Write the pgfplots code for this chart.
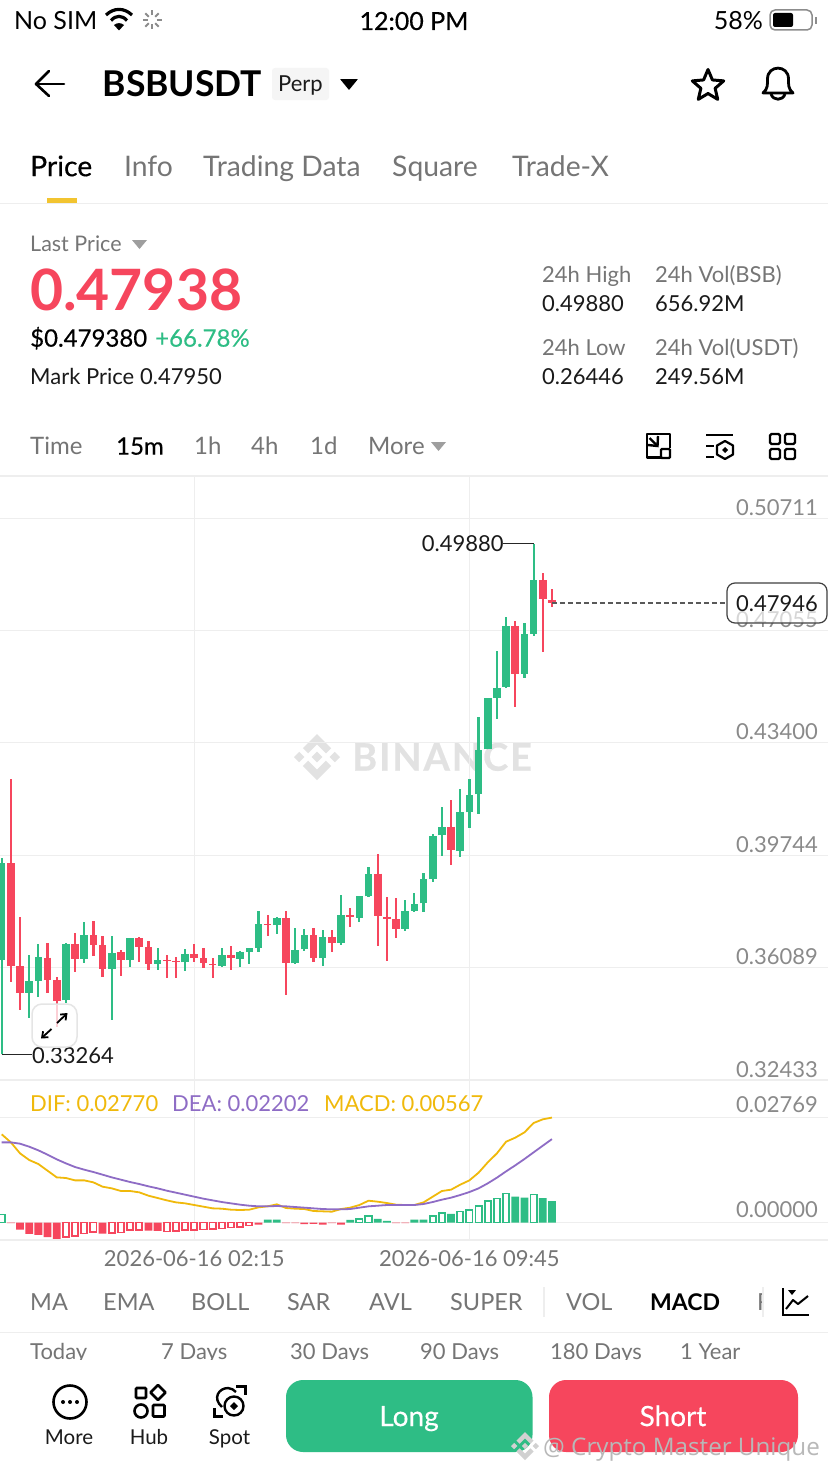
\documentclass[border=0pt]{standalone}
\usepackage{fontspec}
\usepackage{pgfplots}
\usepackage{pgfplotstable}
\pgfplotsset{compat=1.18}
\usetikzlibrary{arrows.meta}
\setmainfont{Lato}
\newfontfamily\wmfont{Open Sans}
\definecolor{grn}{HTML}{2EBD85}
\definecolor{rd}{HTML}{F6465D}
\definecolor{yel}{HTML}{F0B90B}
\definecolor{pur}{HTML}{8E6CC5}
\definecolor{tabgray}{HTML}{757575}
\definecolor{ink}{HTML}{1A1A1A}
\definecolor{gridc}{HTML}{EEEEEE}
\definecolor{wm}{HTML}{E2E2E2}
% #1 font extras, #2 x, #3 y (centre of caps), #4 anchor, #5 size, #6 colour, #7 text
\newcommand{\T}[7][]{\node[anchor=#4,inner sep=0pt,text=#6,font=\fontsize{#5}{#5}\selectfont#1] at (#2,{#3+0.36*#5}) {#7};}
\newcommand{\semi}{\addfontfeature{FakeBold=0.35}}
\newcommand{\binlogo}[4]{\begin{scope}[shift={(#1,#2)},scale=#3]
\fill[#4] (-0.388,-0.16)--(0,-0.55)--(0.388,-0.16)--(0.614,-0.386)--(0,-1)--(-0.614,-0.386)--cycle;
\fill[#4] (-0.388,0.16)--(0,0.55)--(0.388,0.16)--(0.614,0.386)--(0,1)--(-0.614,0.386)--cycle;
\fill[#4] (-1,0)--(-0.774,-0.226)--(-0.548,0)--(-0.774,0.226)--cycle;
\fill[#4] (1,0)--(0.774,-0.226)--(0.548,0)--(0.774,0.226)--cycle;
\fill[#4] (0,-0.229)--(0.229,0)--(0,0.229)--(-0.229,0)--cycle;
\end{scope}}
\pgfplotstableread{
i o h l c
0 0.36324 0.39663 0.33264 0.39479
3 0.35272 0.36487 0.34459 0.35641
4 0.35663 0.36866 0.35120 0.36422
7 0.35023 0.36888 0.34925 0.36844
9 0.36378 0.37560 0.36248 0.37148
12 0.36042 0.37105 0.34372 0.36562
14 0.36335 0.37050 0.36096 0.37040
17 0.36216 0.36736 0.36010 0.36335
20 0.36259 0.36682 0.35977 0.36519
24 0.36150 0.36725 0.36118 0.36497
26 0.36378 0.36628 0.36096 0.36595
27 0.36606 0.36725 0.36205 0.36714
28 0.36736 0.37929 0.36606 0.37517
30 0.37462 0.37744 0.37191 0.37701
32 0.36226 0.37386 0.36205 0.36671
33 0.36682 0.37354 0.36638 0.37148
35 0.36389 0.37300 0.36150 0.37083
37 0.36899 0.38438 0.36812 0.37788
39 0.37712 0.38427 0.37582 0.38406
40 0.38406 0.39371 0.38395 0.39143
44 0.37354 0.38276 0.37289 0.37929
45 0.37939 0.38503 0.37896 0.38156
46 0.38178 0.39154 0.37896 0.38959
47 0.38959 0.40433 0.38883 0.40368
48 0.40390 0.41300 0.39707 0.40672
50 0.39880 0.41897 0.39674 0.41138
51 0.41138 0.42211 0.40639 0.41712
52 0.41723 0.44228 0.41073 0.43176
53 0.43187 0.44857 0.43187 0.44846
54 0.44867 0.46385 0.44163 0.45193
55 0.45225 0.47480 0.45171 0.47209
57 0.45648 0.47296 0.45507 0.46927
58 0.46949 0.49880 0.46873 0.48684
}\greenT
\pgfplotstableread{
i o h l c
1 0.39479 0.42222 0.35608 0.36150
2 0.36129 0.37723 0.34708 0.35272
5 0.36411 0.36888 0.35272 0.35684
6 0.35684 0.35782 0.34166 0.35001
8 0.36844 0.37224 0.35944 0.36378
10 0.37148 0.37603 0.36465 0.36834
11 0.36823 0.37115 0.35793 0.36042
13 0.36584 0.36671 0.35814 0.36335
15 0.37050 0.37094 0.36259 0.36768
16 0.36758 0.36942 0.36020 0.36216
18 0.36324 0.36487 0.35760 0.36291
19 0.36291 0.36422 0.35760 0.36259
21 0.36519 0.36855 0.36270 0.36411
22 0.36389 0.36725 0.36085 0.36248
23 0.36205 0.36389 0.35760 0.36172
25 0.36497 0.36790 0.36010 0.36389
29 0.37495 0.37809 0.37126 0.37462
31 0.37701 0.37939 0.35207 0.36248
34 0.37148 0.37386 0.36270 0.36400
36 0.37083 0.37321 0.36584 0.36899
38 0.37788 0.38015 0.37408 0.37723
41 0.39143 0.39783 0.36790 0.37777
42 0.37744 0.38373 0.36313 0.37668
43 0.37658 0.38351 0.37061 0.37354
49 0.40672 0.41528 0.39414 0.39902
56 0.47199 0.47350 0.44575 0.45648
59 0.48684 0.48933 0.46353 0.48066
60 0.48044 0.48413 0.47817 0.47957
}\redT
\pgfplotstableread{
i dif dea
0 0.02328 0.02116
1 0.02116 0.02116
2 0.01826 0.02081
3 0.01650 0.02002
4 0.01544 0.01905
5 0.01368 0.01791
6 0.01192 0.01668
7 0.01175 0.01562
8 0.01113 0.01465
9 0.01113 0.01395
10 0.01060 0.01333
11 0.00946 0.01263
12 0.00902 0.01192
13 0.00832 0.01131
14 0.00832 0.01069
15 0.00796 0.01016
16 0.00708 0.00955
17 0.00647 0.00902
18 0.00585 0.00840
19 0.00532 0.00788
20 0.00506 0.00735
21 0.00462 0.00682
22 0.00418 0.00629
23 0.00374 0.00585
24 0.00365 0.00541
25 0.00339 0.00506
26 0.00330 0.00471
27 0.00339 0.00444
28 0.00400 0.00427
29 0.00427 0.00427
30 0.00480 0.00436
31 0.00383 0.00427
32 0.00365 0.00409
33 0.00356 0.00392
34 0.00304 0.00374
35 0.00295 0.00356
36 0.00286 0.00348
37 0.00356 0.00348
38 0.00392 0.00356
39 0.00462 0.00392
40 0.00576 0.00427
41 0.00550 0.00444
42 0.00515 0.00462
43 0.00471 0.00462
44 0.00462 0.00462
45 0.00462 0.00462
46 0.00532 0.00488
47 0.00682 0.00541
48 0.00832 0.00603
49 0.00867 0.00656
50 0.00999 0.00726
51 0.01113 0.00805
52 0.01316 0.00902
53 0.01588 0.01034
54 0.01826 0.01184
55 0.02134 0.01351
56 0.02240 0.01509
57 0.02380 0.01676
58 0.02627 0.01852
59 0.02724 0.02028
60 0.02770 0.02202
}\macdT
\pgfplotstableread{
i v
2 -0.00185
3 -0.00299
4 -0.00326
5 -0.00387
6 -0.00458
11 -0.00290
16 -0.00211
17 -0.00220
28 -0.00053
1 -0.00018
31 -0.00018
32 -0.00018
33 -0.00044
34 -0.00035
35 -0.00053
36 -0.00018
37 -0.00053
43 -0.00018
44 -0.00018
}\histRS
\pgfplotstableread{
i v
7 -0.00378
8 -0.00352
9 -0.00290
10 -0.00246
12 -0.00273
13 -0.00264
14 -0.00202
15 -0.00202
18 -0.00238
19 -0.00229
20 -0.00202
21 -0.00194
22 -0.00185
23 -0.00176
24 -0.00158
25 -0.00132
26 -0.00114
27 -0.00079
}\histRH
\pgfplotstableread{
i v
29 0.00079
30 0.00079
38 0.00070
41 0.00097
42 0.00044
45 0.00079
46 0.00079
49 0.00229
56 0.00686
57 0.00660
59 0.00642
60 0.00567
}\histGS
\pgfplotstableread{
i v
0 0.00211
39 0.00088
40 0.00176
47 0.00176
48 0.00255
50 0.00290
51 0.00334
52 0.00440
53 0.00572
54 0.00634
55 0.00766
58 0.00739
}\histGH
\pgfplotsset{
 chartbase/.style={
  scale only axis, width=828pt,
  xmin=-0.185, xmax=90.1,
  axis line style={draw=none},
  major tick length=0pt,
  xtick={21,51},
  ytick pos=right, yticklabel pos=right,
  scaled y ticks=false,
  grid=major, grid style={gridc,line width=1pt},
  y tick label style={anchor=base east,inner sep=0pt,xshift=-10pt,yshift=#1,text=tabgray!85,font=\fontsize{22}{22}\selectfont,
    /pgf/number format/fixed,/pgf/number format/fixed zerofill,/pgf/number format/precision=5,/pgf/number format/assume math mode=true},
 },
 wick/.style={only marks,mark size=0pt,mark options={draw=none,fill=none},forget plot,error bars/.cd,y dir=both,y explicit,error mark=none,error bar style={line width=2.2pt,draw=#1}},
 body/.style={only marks,mark size=0pt,mark options={draw=none,fill=none},forget plot,error bars/.cd,y dir=both,y explicit,error mark=none,error bar style={line width=7.6pt,draw=#1}},
}
\begin{document}
\begin{tikzpicture}
\useasboundingbox (0pt,0pt) rectangle (828pt,-1472pt);
\fill[white] (0pt,0pt) rectangle (828pt,-1472pt);
\begin{scope}[x=1pt,y=-1pt]
 \binlogo{317}{757}{23}{wm}
 \T[\bfseries\addfontfeature{LetterSpace=5,FakeBold=0.5}]{352}{757}{base west}{38}{wm}{BINANCE}
\end{scope}
\begin{axis}[chartbase=3pt, at={(0pt,-1080pt)}, anchor=south west, height=604pt,
  ymin=0.32433, ymax=0.52077,
  ytick={0.32433,0.36089,0.39744,0.43400,0.47055,0.50711},
  xticklabels={}]
 \addplot[wick=grn] table[x=i,y=o,y error plus expr=\thisrow{h}-\thisrow{o},y error minus expr=\thisrow{o}-\thisrow{l}] {\greenT};
 \addplot[wick=rd] table[x=i,y=o,y error plus expr=\thisrow{h}-\thisrow{o},y error minus expr=\thisrow{o}-\thisrow{l}] {\redT};
 \addplot[body=grn] table[x=i,y=o,y error plus expr=\thisrow{c}-\thisrow{o},y error minus expr=0] {\greenT};
 \addplot[body=rd] table[x=i,y=o,y error plus expr=0,y error minus expr=\thisrow{o}-\thisrow{c}] {\redT};
 \addplot[dash pattern=on 5pt off 3pt,line width=1.2pt,black!65,forget plot] coordinates {(60,0.47946)(79.1,0.47946)};
 \addplot[black!85,line width=1.2pt,forget plot] coordinates {(54.67,0.49880)(58,0.49880)};
 \addplot[black!85,line width=1.2pt,forget plot] coordinates {(0,0.33264)(3.3,0.33264)};
 \node[anchor=base east,inner sep=0pt,yshift=-8pt,text=ink,font=\fontsize{22}{22}\selectfont] at (axis cs:54.75,0.4988) {0.49880};
 \node[anchor=base west,inner sep=0pt,yshift=-9.5pt,text=ink,font=\fontsize{22}{22}\selectfont] at (axis cs:3.3,0.33264) {0.33264};
\end{axis}
\begin{axis}[chartbase=5.5pt, at={(0pt,-1240pt)}, anchor=south west, height=160pt,
  ymin=-0.00462, ymax=0.03762,
  ytick={0,0.02769},
  xticklabels={2026-06-16 02:15,2026-06-16 09:45},
  x tick label style={inner sep=0pt,anchor=base,yshift=-26pt,text=tabgray,font=\fontsize{22}{22}\selectfont},
  ]
 \addplot[ybar,bar width=6.2pt,bar shift=0pt,draw=rd,fill=white,line width=1.9pt,forget plot] table[x=i,y=v] {\histRH};
 \addplot[ybar,bar width=6.2pt,bar shift=0pt,draw=grn,fill=white,line width=1.9pt,forget plot] table[x=i,y=v] {\histGH};
 \addplot[ybar,bar width=7.8pt,bar shift=0pt,draw=none,fill=rd,forget plot] table[x=i,y=v] {\histRS};
 \addplot[ybar,bar width=7.8pt,bar shift=0pt,draw=none,fill=grn,forget plot] table[x=i,y=v] {\histGS};
 \addplot[yel,line width=1.8pt,forget plot] table[x=i,y=dif] {\macdT};
 \addplot[pur,line width=1.8pt,forget plot] table[x=i,y=dea] {\macdT};
\end{axis}
\begin{scope}[x=1pt,y=-1pt]
 % chart frame lines
 \draw[gridc,line width=1.2pt] (0,476)--(828,476);
 \draw[gridc,line width=1.5pt] (0,1080)--(828,1080);
 \draw[gridc,line width=1.5pt] (0,1240)--(828,1240);
 % last price box
 \draw[black!75,fill=white,fill opacity=0.65,line width=1.2pt,rounded corners=8pt] (727,583) rectangle (827,623);
 \T{777}{604}{base}{22}{ink}{0.47946}
 % expand button
 \draw[black!10,fill=white,fill opacity=0.75,line width=1.5pt,rounded corners=10pt] (32,1004) rectangle (77,1047);
 \draw[black,line width=1.8pt,-{Straight Barb[length=5pt,width=8pt]}] (57,1023)--(67.5,1013);
 \draw[black,line width=1.8pt,-{Straight Barb[length=5pt,width=8pt]}] (51.5,1029)--(41,1038.5);
 % MACD legend
 \T{30}{1104}{base west}{22}{yel}{DIF: 0.02770}
 \T{172}{1104}{base west}{22}{pur}{DEA: 0.02202}
 \T{324}{1104}{base west}{22}{yel}{MACD: 0.00567}
 % status bar
 \T{14}{21}{base west}{25}{black}{No SIM}
 \draw[black,line width=3.2pt] (106,15) .. controls (114,7.5) and (124,7.5) .. (132,15);
 \draw[black,line width=3.2pt] (111,20.5) .. controls (116,15) and (122,15) .. (127,20.5);
 \fill[black] (114,25) .. controls (117,22.5) and (121,22.5) .. (124,25) -- (119,30.5) -- cycle;
 \foreach \a in {0,45,...,315} {\draw[black!45,line width=1.8pt] (152,20)++(\a:4.5)--++(\a:5);}
 \T[\semi]{414}{21}{base}{25}{black}{12:00 PM}
 \T{763}{21}{base east}{25}{black}{58\%}
 \draw[black!45,line width=1.5pt,rounded corners=5pt] (770,10) rectangle (812,30);
 \fill[black,rounded corners=2pt] (773,13) rectangle (793,27);
 \fill[black!45] (815,17) rectangle (817,24);
 % header
 \draw[black,line width=2.6pt,line cap=round,line join=round] (64,84)--(36,84);
 \draw[black,line width=2.6pt,line cap=round,line join=round] (49,71)--(36,84)--(49,96);
 \T[\bfseries]{102.5}{84}{base west}{35.5}{black}{BSBUSDT}
 \fill[black!4,rounded corners=3pt] (272,68) rectangle (329,100);
 \T{300.5}{84}{base}{22}{ink}{Perp}
 \fill[black,rounded corners=0.5pt] (340,79)--(358,79)--(349,90)--cycle;
 \begin{scope}[shift={(708,86)}]
  \draw[black,line width=3pt,line join=round] (-90:16.5)--(-54:7.5)--(-18:16.5)--(18:7.5)--(54:16.5)--(90:7.5)--(126:16.5)--(162:7.5)--(198:16.5)--(234:7.5)--cycle;
 \end{scope}
 \draw[black,line width=2.8pt,line join=round] (763,93) .. controls (768,89) and (767.5,84) .. (767.5,79) .. controls (767.5,64.5) and (788.5,64.5) .. (788.5,79) .. controls (788.5,84) and (788,89) .. (793,93) -- cycle;
 \draw[black,line width=2.8pt] (771,94) .. controls (773,101) and (783,101) .. (785,94);
 % tabs
 \T[\semi]{30}{166}{base west}{28.3}{black}{Price}
 \T{124}{166}{base west}{28.3}{tabgray}{Info}
 \T{203}{166}{base west}{28.3}{tabgray}{Trading Data}
 \T{392}{166}{base west}{28.3}{tabgray}{Square}
 \T{512}{166}{base west}{28.3}{tabgray}{Trade-X}
 \fill[yel!85] (47,198) rectangle (77,203);
 \draw[gridc,line width=1pt] (0,203.5)--(828,203.5);
 % price block
 \T{30}{244}{base west}{21.5}{tabgray}{Last Price}
 \fill[tabgray!70] (132,240)--(147,240)--(139.5,249)--cycle;
 \T[\bfseries]{30}{290}{base west}{57}{rd}{0.47938}
 \T[\semi]{30}{338}{base west}{24}{black}{\$0.479380}
 \T[\semi]{155}{338}{base west}{24}{grn}{+66.78\%}
 \T{30}{377}{base west}{22}{ink}{Mark Price}
 \T{140}{377}{base west}{22}{ink}{0.47950}
 \T{542}{275}{base west}{22}{tabgray}{24h High}
 \T{655}{275}{base west}{22}{tabgray}{24h Vol(BSB)}
 \T{542}{304}{base west}{22}{ink}{0.49880}
 \T{655}{304}{base west}{22}{ink}{656.92M}
 \T{542}{348}{base west}{22}{tabgray}{24h Low}
 \T{655}{348}{base west}{22}{tabgray}{24h Vol(USDT)}
 \T{542}{377}{base west}{22}{ink}{0.26446}
 \T{655}{377}{base west}{22}{ink}{249.56M}
 % timeframe row
 \T{30}{446}{base west}{24}{tabgray}{Time}
 \T[\semi]{116}{446}{base west}{24}{black}{15m}
 \T{194}{446}{base west}{24}{tabgray}{1h}
 \T{251}{446}{base west}{24}{tabgray}{4h}
 \T{310}{446}{base west}{24}{tabgray}{1d}
 \T{368}{446}{base west}{24}{tabgray}{More}
 \fill[tabgray!70] (431,442)--(446,442)--(438.5,451)--cycle;
 \draw[black,line width=2.4pt,line join=round] (661,457.5)--(647,457.5)--(647,434)--(670,434)--(670,448);
 \draw[black,line width=2.4pt] (649.5,438)--(657.5,446);
 \draw[black,line width=2.4pt] (648,445)--(657.5,446)--(658,436);
 \draw[black,line width=2.4pt,rounded corners=1pt] (661,449) rectangle (670,458);
 \draw[black,line width=2.2pt] (706,435)--(733,435);
 \draw[black,line width=2.2pt] (706,446)--(714,446);
 \draw[black,line width=2.2pt] (706,457)--(714,457);
 \draw[black,line width=2.2pt,line join=round] (725,441)--(733,445.5)--(733,454.5)--(725,459)--(717,454.5)--(717,445.5)--cycle;
 \fill[black] (725,447)--(728,450)--(725,453)--(722,450)--cycle;
 \foreach \xx/\yy in {770/434,785/434,770/449,785/449} {\draw[black,line width=2.4pt,rounded corners=1.5pt] (\xx,\yy) rectangle ++(10,10);}
 % indicator row
 \T{30}{1302}{base west}{23.5}{tabgray}{MA}
 \T{103}{1302}{base west}{23.5}{tabgray}{EMA}
 \T{191}{1302}{base west}{23.5}{tabgray}{BOLL}
 \T{287}{1302}{base west}{23.5}{tabgray}{SAR}
 \T{369}{1302}{base west}{23.5}{tabgray}{AVL}
 \T{450}{1302}{base west}{23.5}{tabgray}{SUPER}
 \draw[gridc,line width=1.5pt] (544,1287)--(544,1317);
 \T{566}{1302}{base west}{23.5}{tabgray}{VOL}
 \T[\bfseries]{650}{1302}{base west}{23}{black}{MACD}
 \begin{scope}
  \clip (750,1285) rectangle (763,1320);
  \T{757}{1302}{base west}{23.5}{tabgray}{RSI}
 \end{scope}
 \draw[gridc,line width=1.5pt] (763,1287)--(763,1317);
 \draw[black,line width=2pt] (783,1288)--(783,1314.5)--(809,1314.5);
 \draw[black,line width=2pt,line join=round] (786,1309)--(793,1300)--(798,1304)--(808,1296);
 \fill[black] (788,1290)--(796,1290)--(792,1295)--cycle;
 \draw[gridc,line width=1pt] (0,1332.5)--(828,1332.5);
 % range row (clipped)
 \begin{scope}
  \clip (0,1335) rectangle (828,1359.5);
  \T{30}{1352}{base west}{22}{tabgray}{Today}
  \T{161}{1352}{base west}{22}{tabgray}{7 Days}
  \T{290}{1352}{base west}{22}{tabgray}{30 Days}
  \T{420}{1352}{base west}{22}{tabgray}{90 Days}
  \T{550}{1352}{base west}{22}{tabgray}{180 Days}
  \T{680}{1352}{base west}{22}{tabgray}{1 Year}
 \end{scope}
 % bottom bar icons
 \draw[black,line width=2.6pt] (70,1402) circle (16.5);
 \foreach \xx in {63,70,77} {\fill[black] (\xx,1402) circle (2);}
 \T{69}{1437}{base}{20.5}{ink}{More}
 \draw[black,line width=2.6pt,rounded corners=1pt] (136,1388) rectangle (146,1398);
 \draw[black,line width=2.6pt,line join=round] (158,1385)--(165.5,1392.5)--(158,1400)--(150.5,1392.5)--cycle;
 \draw[black,line width=2.6pt] (141,1411) circle (6.5);
 \draw[black,line width=2.6pt,rounded corners=1pt] (153,1405) rectangle (164.5,1416.5);
 \T{149}{1437}{base}{20.5}{ink}{Hub}
 \draw[black,line width=2.4pt] (236,1386.5)--(245.5,1386.5)--(245.5,1395);
 \draw[black,line width=2.4pt] (214.5,1408)--(214.5,1416.5)--(223,1416.5);
 \draw[black,line width=2.4pt] (234,1406) circle (9.5);
 \fill[black] (234,1402)--(238,1406)--(234,1410)--(230,1406)--cycle;
 \draw[black,line width=2.4pt] (222,1407) .. controls (212,1398) and (219,1388) .. (228,1388) .. controls (231,1388) and (234,1390) .. (236,1392);
 \T{229.5}{1437}{base}{20.5}{ink}{Spot}
 % buttons
 \fill[grn,rounded corners=17pt] (286,1380) rectangle (532.5,1452);
 \fill[rd,rounded corners=17pt] (549,1380) rectangle (798,1452);
 \T[\semi]{409}{1416}{base}{28}{white}{Long}
 \T[\semi]{673}{1416}{base}{28}{white}{Short}
 % watermark
 \binlogo{525}{1446}{14}{black!18}
 \T[\wmfont]{543}{1447}{base west}{24.2}{black!28}{@ Crypto Master Unique}
\end{scope}
\end{tikzpicture}
\end{document}
